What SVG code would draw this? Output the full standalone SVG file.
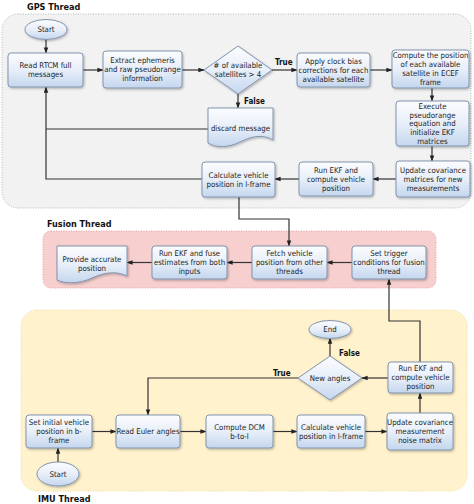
<svg xmlns="http://www.w3.org/2000/svg" width="474" height="504" viewBox="0 0 474 504">
<defs>
<linearGradient id="gb" x1="0" y1="0" x2="0" y2="1">
<stop offset="0" stop-color="#fbfcfe"/><stop offset="0.5" stop-color="#e8eff9"/><stop offset="1" stop-color="#c4d6ee"/>
</linearGradient>
<filter id="sh" x="-10%" y="-10%" width="130%" height="140%">
<feDropShadow dx="1" dy="1.2" stdDeviation="0.8" flood-color="#000" flood-opacity="0.28"/>
</filter>
<marker id="ah" viewBox="0 0 8 8" refX="7.5" refY="4" markerWidth="6" markerHeight="6" orient="auto" markerUnits="userSpaceOnUse">
<path d="M0,1 L8,4 L0,7 z" fill="#222"/>
</marker>
<style>
.n{fill:url(#gb);stroke:#8294ae;stroke-width:1;filter:url(#sh)}
.t{font-family:"DejaVu Sans Condensed","DejaVu Sans",sans-serif;font-stretch:condensed;font-size:7.8px;fill:#222;text-anchor:middle}
.lb{font-family:"DejaVu Sans Condensed","DejaVu Sans",sans-serif;font-stretch:condensed;font-size:8px;font-weight:bold;fill:#111}
.ti{font-family:"DejaVu Sans Condensed","DejaVu Sans",sans-serif;font-stretch:condensed;font-size:9px;font-weight:bold;fill:#111}
.c{fill:none;stroke:#333;stroke-width:1.2}
.a{marker-end:url(#ah)}
</style>
</defs>

<g id="containers">
<rect x="2" y="14" width="469" height="194" rx="16" fill="#f2f2f2" stroke="#b8b8b8" stroke-width="1" stroke-dasharray="1,1.5"/>
<rect x="43" y="231" width="393" height="57" rx="8" fill="#f7cfcf" stroke="#e4a3a3" stroke-width="1" stroke-dasharray="1,1.5"/>
<rect x="21" y="310" width="446" height="181" rx="16" fill="#fff2cc" stroke="#efd9a0" stroke-width="1" stroke-dasharray="1,1.5"/>
<text class="ti" x="27" y="10">GPS Thread</text>
<text class="ti" x="47" y="227">Fusion Thread</text>
<text class="ti" x="38" y="502">IMU Thread</text>
</g>

<g id="connectors">
<path class="c a" d="M46,39.5 V53"/>
<path class="c a" d="M83,70 H103"/>
<path class="c a" d="M182,70 H204"/>
<path class="c a" d="M272,70 H297"/>
<path class="c a" d="M370,70 H392"/>
<path class="c a" d="M432,88 V101"/>
<path class="c a" d="M432,146 V161"/>
<path class="c a" d="M396,179 H373"/>
<path class="c a" d="M299,179 H275"/>
<path class="c a" d="M202,179 H46 V87"/>
<path class="c" d="M208,129 H46"/>
<path class="c a" d="M238,94 V108"/>
<path class="c a" d="M239,197 V219 H289 V246"/>
<path class="c a" d="M352,262.5 H327"/>
<path class="c a" d="M252,262.5 H227"/>
<path class="c a" d="M152,262.5 H127"/>
<path class="c a" d="M420,362 V321 H389 V279"/>
<path class="c a" d="M388,378 H362"/>
<path class="c a" d="M330,356 V338"/>
<path class="c a" d="M298,378 H148 V415"/>
<path class="c a" d="M58,462 V448"/>
<path class="c a" d="M92,431.5 H116"/>
<path class="c a" d="M180,431.5 H206"/>
<path class="c a" d="M273,431.5 H297"/>
<path class="c a" d="M365,431.5 H387"/>
<path class="c a" d="M420,413 V393"/>
<text class="lb" x="275" y="65">True</text>
<text class="lb" x="244" y="104">False</text>
<text class="lb" x="273" y="376">True</text>
<text class="lb" x="339" y="356">False</text>
</g>

<g id="gps-start">
<ellipse class="n" cx="46" cy="29.5" rx="21" ry="10"/>
<text class="t" x="46" y="32.3">Start</text>
</g>
<g id="read-rtcm">
<rect class="n" x="8" y="53" width="75" height="34" rx="3"/>
<text class="t"><tspan x="45.5" y="68.3">Read RTCM full</tspan><tspan x="45.5" y="77.3">messages</tspan></text>
</g>
<g id="extract">
<rect class="n" x="103" y="51" width="79" height="37" rx="3"/>
<text class="t"><tspan x="142.5" y="63.3">Extract ephemeris</tspan><tspan x="142.5" y="72.3">and raw pseudorange</tspan><tspan x="142.5" y="81.3">information</tspan></text>
</g>
<g id="sat-check">
<polygon class="n" points="238,46 272,70 238,94 204,70"/>
<text class="t"><tspan x="238" y="67.8"># of available</tspan><tspan x="238" y="77.3">satellites &gt; 4</tspan></text>
</g>
<g id="apply-clock">
<rect class="n" x="297" y="53" width="73" height="34" rx="3"/>
<text class="t"><tspan x="333.5" y="63.8">Apply clock bias</tspan><tspan x="333.5" y="72.8">corrections for each</tspan><tspan x="333.5" y="81.8">available satellite</tspan></text>
</g>
<g id="compute-pos">
<rect class="n" x="392" y="50" width="77" height="38" rx="3"/>
<text class="t"><tspan x="430.5" y="58.3">Compute the position</tspan><tspan x="430.5" y="67.3">of each available</tspan><tspan x="430.5" y="76.3">satellite in ECEF</tspan><tspan x="430.5" y="85.3">frame</tspan></text>
</g>
<g id="execute">
<rect class="n" x="396" y="101" width="73" height="45" rx="3"/>
<text class="t"><tspan x="432.5" y="108.8">Execute</tspan><tspan x="432.5" y="117.5">pseudorange</tspan><tspan x="432.5" y="126.3">equation and</tspan><tspan x="432.5" y="135.1">initialize EKF</tspan><tspan x="432.5" y="143.8">matrices</tspan></text>
</g>
<g id="update-cov-gps">
<rect class="n" x="396" y="161" width="74" height="36" rx="3"/>
<text class="t"><tspan x="433" y="172.8">Update covariance</tspan><tspan x="433" y="181.8">matrices for new</tspan><tspan x="433" y="190.8">measurements</tspan></text>
</g>
<g id="run-ekf-gps">
<rect class="n" x="299" y="162" width="74" height="34" rx="3"/>
<text class="t"><tspan x="336" y="172.8">Run EKF and</tspan><tspan x="336" y="181.8">compute vehicle</tspan><tspan x="336" y="190.8">position</tspan></text>
</g>
<g id="calc-gps">
<rect class="n" x="202" y="162" width="73" height="35" rx="3"/>
<text class="t"><tspan x="238.5" y="177.8">Calculate vehicle</tspan><tspan x="238.5" y="186.8">position in l-frame</tspan></text>
</g>
<g id="discard">
<path class="n" d="M208,108 H273 V140 C263,134 252,136 240,142 C228,148 216,148 208,143 Z"/>
<text class="t" x="240.5" y="131">discard message</text>
</g>

<g id="provide">
<path class="n" d="M57,246 H127 V276 C117,271 105,272 92,278 C79,284 66,284 57,280 Z"/>
<text class="t"><tspan x="92" y="262">Provide accurate</tspan><tspan x="92" y="271">position</tspan></text>
</g>
<g id="run-ekf-fuse">
<rect class="n" x="152" y="246" width="75" height="33" rx="3"/>
<text class="t"><tspan x="189.5" y="256.3">Run EKF and fuse</tspan><tspan x="189.5" y="265.3">estimates from both</tspan><tspan x="189.5" y="274.3">inputs</tspan></text>
</g>
<g id="fetch">
<rect class="n" x="252" y="246" width="75" height="33" rx="3"/>
<text class="t"><tspan x="289.5" y="256.3">Fetch vehicle</tspan><tspan x="289.5" y="265.3">position from other</tspan><tspan x="289.5" y="274.3">threads</tspan></text>
</g>
<g id="set-trigger">
<rect class="n" x="352" y="246" width="74" height="33" rx="3"/>
<text class="t"><tspan x="389" y="256.3">Set trigger</tspan><tspan x="389" y="265.3">conditions for fusion</tspan><tspan x="389" y="274.3">thread</tspan></text>
</g>

<g id="end">
<ellipse class="n" cx="330" cy="329.5" rx="21" ry="9"/>
<text class="t" x="330" y="332.3">End</text>
</g>
<g id="new-angles">
<polygon class="n" points="330,356 362,378 330,400 298,378"/>
<text class="t" x="330" y="380.8">New angles</text>
</g>
<g id="run-ekf-imu">
<rect class="n" x="388" y="362" width="65" height="31" rx="3"/>
<text class="t"><tspan x="420.5" y="371.3">Run EKF and</tspan><tspan x="420.5" y="380.3">compute vehicle</tspan><tspan x="420.5" y="389.3">position</tspan></text>
</g>
<g id="set-initial">
<rect class="n" x="26" y="415" width="66" height="33" rx="3"/>
<text class="t"><tspan x="59" y="425.3">Set initial vehicle</tspan><tspan x="59" y="434.3">position in b-</tspan><tspan x="59" y="443.3">frame</tspan></text>
</g>
<g id="read-euler">
<rect class="n" x="116" y="415" width="64" height="33" rx="3"/>
<text class="t" x="148" y="434.3">Read Euler angles</text>
</g>
<g id="compute-dcm">
<rect class="n" x="206" y="415" width="67" height="33" rx="3"/>
<text class="t"><tspan x="239.5" y="429.8">Compute DCM</tspan><tspan x="239.5" y="438.8">b-to-l</tspan></text>
</g>
<g id="calc-imu">
<rect class="n" x="297" y="415" width="68" height="33" rx="3"/>
<text class="t"><tspan x="331" y="429.8">Calculate vehicle</tspan><tspan x="331" y="438.8">position in l-frame</tspan></text>
</g>
<g id="update-cov-imu">
<rect class="n" x="387" y="413" width="66" height="37" rx="3"/>
<text class="t"><tspan x="420" y="425.3">Update covariance</tspan><tspan x="420" y="434.3">measurement</tspan><tspan x="420" y="443.3">noise matrix</tspan></text>
</g>
<g id="imu-start">
<ellipse class="n" cx="58" cy="474" rx="21" ry="12"/>
<text class="t" x="58" y="476.8">Start</text>
</g>
</svg>
